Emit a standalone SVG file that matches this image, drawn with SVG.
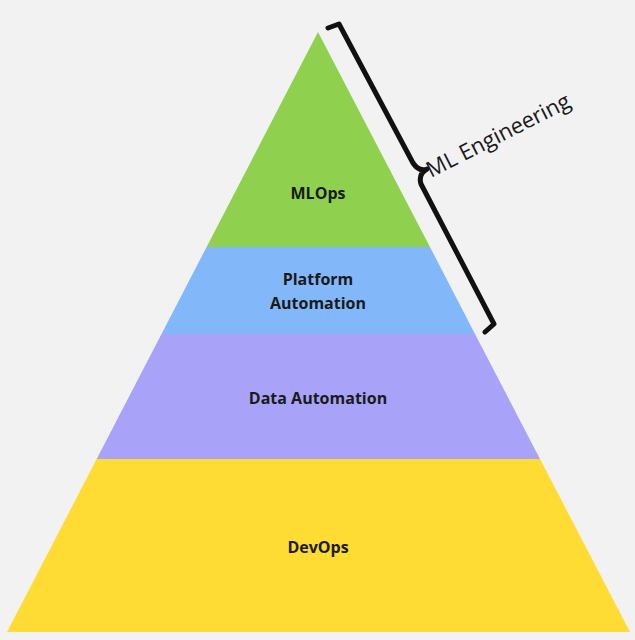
<svg xmlns="http://www.w3.org/2000/svg" width="635" height="640" viewBox="0 0 635 640">
<style>
.l{font-family:"Open Sans","DejaVu Sans",sans-serif;font-weight:bold;font-size:16px;fill:#1a1a1a;text-anchor:middle}
</style>
<rect width="635" height="640" fill="#f2f2f2"/>
<g id="mlops"><polygon points="318,32 430,247 206.6,247" fill="#8fd14f"/><text class="l" x="318" y="199">MLOps</text></g>
<g id="platform"><polygon points="206.6,247 430,247 475,334 161.5,334" fill="#82b8fa"/><text class="l" x="318" y="285">Platform</text><text class="l" x="318" y="309">Automation</text></g>
<g id="data"><polygon points="161.5,334 475,334 540,459 96.7,459" fill="#a8a2f8"/><text class="l" x="318" y="404">Data Automation</text></g>
<g id="devops"><polygon points="96.7,459 540,459 630,632 7,632" fill="#fedc33"/><text class="l" x="318" y="553">DevOps</text></g>
<g id="connectors"><path d="M328,28 L339,24 L413,163 Q419,172 427,169 Q418,174 421,184 L494,324 L485,332" fill="none" stroke="#111" stroke-width="5" stroke-linejoin="round" stroke-linecap="round"/></g>
<text x="431" y="178" transform="rotate(-27 431 178)" font-family="Open Sans, DejaVu Sans, sans-serif" font-size="22" fill="#1a1a1a">ML Engineering</text>
</svg>
